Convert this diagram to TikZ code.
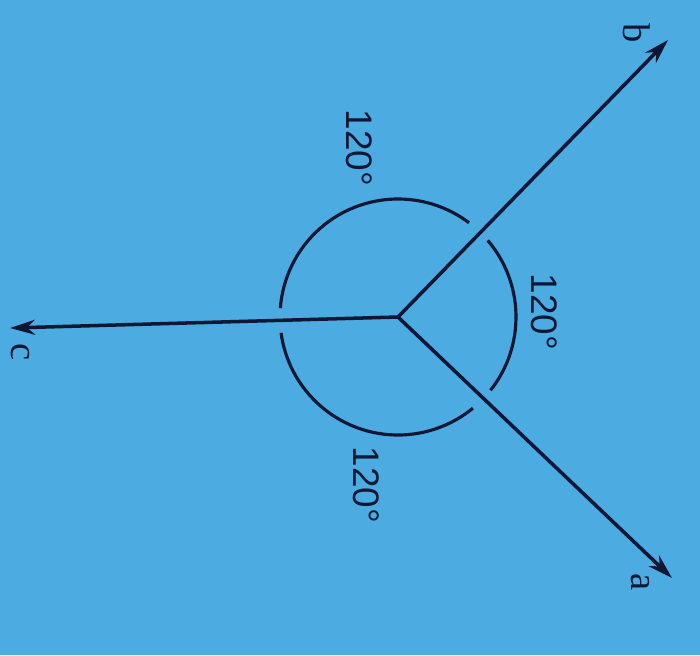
\documentclass[tikz,border=0pt]{standalone}
\usepackage{fontspec}
\setmainfont{Liberation Sans}
\newfontfamily\letterfont{Liberation Serif}
\usetikzlibrary{arrows.meta}
\definecolor{paperblue}{RGB}{76,172,226}
\definecolor{inkblue}{RGB}{14,24,52}

\begin{document}
\begin{tikzpicture}[
        vec/.style={
            draw=inkblue,
            line width=2pt,
            -{Stealth[length=5mm,width=3mm]}
        },
        anglearc/.style={
            draw=inkblue,
            line width=1.8pt
        },
        deg/.style={
            text=inkblue,
            font=\fontsize{21}{24}\selectfont,
            rotate=-90
        },
        vecname/.style={
            text=inkblue,
            font=\letterfont\fontsize{22}{24}\selectfont,
            rotate=-90
        }
    ]

    % page background
    \fill[paperblue] (-7.96,6.34) rectangle (6.04,-6.76);
    \useasboundingbox (-7.96,6.34) rectangle (6.04,-6.76);

    % common origin and the three tips
    \coordinate (o) at (0,0);
    \coordinate (atip) at (5.48,-5.22);
    \coordinate (btip) at (5.40,5.54);
    \coordinate (ctip) at (-7.76,-0.22);

    % the three vectors
    \draw[vec] (o) -- (atip);
    \draw[vec] (o) -- (btip);
    \draw[vec] (o) -- (ctip);

    % arcs between the vectors
    \draw[anglearc] (53:2.36) arc[start angle=53, end angle=175.7, radius=2.36];
    \draw[anglearc] (187.7:2.36) arc[start angle=187.7, end angle=309.4, radius=2.36];
    \draw[anglearc] (-38.4:2.36) arc[start angle=-38.4, end angle=40.5, radius=2.36];

    % angle labels
    \node[deg] (degtop) at (-0.78,3.38) {120°};
    \node[deg] (degright) at (2.92,0.10) {120°};
    \node[deg] (degbottom) at (-0.64,-3.36) {120°};

    % vector names
    \node[vecname] (aname) at (4.84,-5.30) {a};
    \node[vecname] (bname) at (4.78,5.68) {b};
    \node[vecname] (cname) at (-7.56,-0.70) {c};

\end{tikzpicture}
\end{document}
